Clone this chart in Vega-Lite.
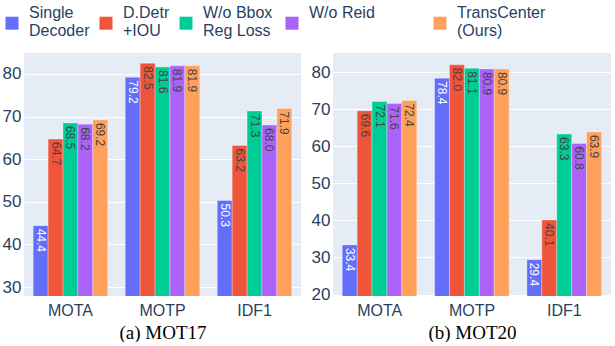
{
  "$schema": "https://vega.github.io/schema/vega-lite/v6.json",
  "padding": {"left": 2, "top": 5, "right": 2, "bottom": 0},
  "background": "white",
  "data": {"values": [
    {"dataset": "MOT17", "metric": "MOTA", "method": "Single Decoder", "value": 44.4},
    {"dataset": "MOT17", "metric": "MOTP", "method": "Single Decoder", "value": 79.2},
    {"dataset": "MOT17", "metric": "IDF1", "method": "Single Decoder", "value": 50.3},
    {"dataset": "MOT17", "metric": "MOTA", "method": "D.Detr +IOU", "value": 64.7},
    {"dataset": "MOT17", "metric": "MOTP", "method": "D.Detr +IOU", "value": 82.5},
    {"dataset": "MOT17", "metric": "IDF1", "method": "D.Detr +IOU", "value": 63.2},
    {"dataset": "MOT17", "metric": "MOTA", "method": "W/o Bbox Reg Loss", "value": 68.5},
    {"dataset": "MOT17", "metric": "MOTP", "method": "W/o Bbox Reg Loss", "value": 81.6},
    {"dataset": "MOT17", "metric": "IDF1", "method": "W/o Bbox Reg Loss", "value": 71.3},
    {"dataset": "MOT17", "metric": "MOTA", "method": "W/o Reid", "value": 68.2},
    {"dataset": "MOT17", "metric": "MOTP", "method": "W/o Reid", "value": 81.9},
    {"dataset": "MOT17", "metric": "IDF1", "method": "W/o Reid", "value": 68.0},
    {"dataset": "MOT17", "metric": "MOTA", "method": "TransCenter (Ours)", "value": 69.2},
    {"dataset": "MOT17", "metric": "MOTP", "method": "TransCenter (Ours)", "value": 81.9},
    {"dataset": "MOT17", "metric": "IDF1", "method": "TransCenter (Ours)", "value": 71.9},
    {"dataset": "MOT20", "metric": "MOTA", "method": "Single Decoder", "value": 33.4},
    {"dataset": "MOT20", "metric": "MOTP", "method": "Single Decoder", "value": 78.4},
    {"dataset": "MOT20", "metric": "IDF1", "method": "Single Decoder", "value": 29.4},
    {"dataset": "MOT20", "metric": "MOTA", "method": "D.Detr +IOU", "value": 69.6},
    {"dataset": "MOT20", "metric": "MOTP", "method": "D.Detr +IOU", "value": 82.0},
    {"dataset": "MOT20", "metric": "IDF1", "method": "D.Detr +IOU", "value": 40.1},
    {"dataset": "MOT20", "metric": "MOTA", "method": "W/o Bbox Reg Loss", "value": 72.1},
    {"dataset": "MOT20", "metric": "MOTP", "method": "W/o Bbox Reg Loss", "value": 81.1},
    {"dataset": "MOT20", "metric": "IDF1", "method": "W/o Bbox Reg Loss", "value": 63.3},
    {"dataset": "MOT20", "metric": "MOTA", "method": "W/o Reid", "value": 71.6},
    {"dataset": "MOT20", "metric": "MOTP", "method": "W/o Reid", "value": 80.9},
    {"dataset": "MOT20", "metric": "IDF1", "method": "W/o Reid", "value": 60.8},
    {"dataset": "MOT20", "metric": "MOTA", "method": "TransCenter (Ours)", "value": 72.4},
    {"dataset": "MOT20", "metric": "MOTP", "method": "TransCenter (Ours)", "value": 80.9},
    {"dataset": "MOT20", "metric": "IDF1", "method": "TransCenter (Ours)", "value": 63.9}
  ]},
  "spacing": 10,
  "hconcat": [
    {
      "width": 277,
      "height": 243,
      "transform": [{"filter": "datum.dataset == 'MOT17'"}],
      "encoding": {
        "x": {"field": "metric", "type": "nominal", "sort": ["MOTA", "MOTP", "IDF1"],
              "scale": {"paddingInner": 0.19, "paddingOuter": 0.1},
              "axis": {"title": "(a) MOT17"}},
        "xOffset": {"field": "method", "type": "nominal",
                    "sort": ["Single Decoder", "D.Detr +IOU", "W/o Bbox Reg Loss", "W/o Reid", "TransCenter (Ours)"],
                    "scale": {"paddingInner": 0, "paddingOuter": 0}},
        "y": {"field": "value", "type": "quantitative",
              "scale": {"domain": [27.9, 84.9], "zero": false, "nice": false},
              "axis": {"title": null, "values": [30, 40, 50, 60, 70, 80]}}
      },
      "layer": [
        {"mark": {"type": "bar", "clip": true, "stroke": "white", "strokeWidth": 0.6, "strokeOpacity": 0.5},
         "encoding": {"color": {"field": "method", "type": "nominal",
            "sort": ["Single Decoder", "D.Detr +IOU", "W/o Bbox Reg Loss", "W/o Reid", "TransCenter (Ours)"],
            "scale": {"range": ["#636efa", "#ef553b", "#00cc96", "#ab63fa", "#ffa15a"]},
            "legend": {"labelExpr": "datum.label == 'Single Decoder' ? ['Single', 'Decoder'] : datum.label == 'D.Detr +IOU' ? ['D.Detr', '+IOU'] : datum.label == 'W/o Bbox Reg Loss' ? ['W/o Bbox', 'Reg Loss \u200b'] : datum.label == 'TransCenter (Ours)' ? ['TransCenter', '(Ours)'] : ['W/o Reid           \u200b']",
                       "encode": {"labels": {"update": {"dy": {"signal": "(datum.index == 3 || datum.value == 'W/o Reid' || datum.label == 'W/o Reid') ? 10 : 0"}}}}}}}},
        {"mark": {"type": "text", "angle": 90, "align": "left", "baseline": "middle", "dx": 3, "fontSize": 12, "font": "Liberation Sans"},
         "encoding": {"text": {"field": "value", "type": "quantitative", "format": ".1f"},
                      "color": {"condition": {"test": "datum.method == 'Single Decoder'", "value": "white"}, "value": "#444444"}}}
      ]
    },
    {
      "width": 278,
      "height": 243,
      "transform": [{"filter": "datum.dataset == 'MOT20'"}],
      "encoding": {
        "x": {"field": "metric", "type": "nominal", "sort": ["MOTA", "MOTP", "IDF1"],
              "scale": {"paddingInner": 0.19, "paddingOuter": 0.1},
              "axis": {"title": "(b) MOT20"}},
        "xOffset": {"field": "method", "type": "nominal",
                    "sort": ["Single Decoder", "D.Detr +IOU", "W/o Bbox Reg Loss", "W/o Reid", "TransCenter (Ours)"],
                    "scale": {"paddingInner": 0, "paddingOuter": 0}},
        "y": {"field": "value", "type": "quantitative",
              "scale": {"domain": [19.6, 85.2], "zero": false, "nice": false},
              "axis": {"title": null, "values": [20, 30, 40, 50, 60, 70, 80]}}
      },
      "layer": [
        {"mark": {"type": "bar", "clip": true, "stroke": "white", "strokeWidth": 0.6, "strokeOpacity": 0.5},
         "encoding": {"color": {"field": "method", "type": "nominal",
            "sort": ["Single Decoder", "D.Detr +IOU", "W/o Bbox Reg Loss", "W/o Reid", "TransCenter (Ours)"],
            "scale": {"range": ["#636efa", "#ef553b", "#00cc96", "#ab63fa", "#ffa15a"]},
            "legend": {"labelExpr": "datum.label == 'Single Decoder' ? ['Single', 'Decoder'] : datum.label == 'D.Detr +IOU' ? ['D.Detr', '+IOU'] : datum.label == 'W/o Bbox Reg Loss' ? ['W/o Bbox', 'Reg Loss \u200b'] : datum.label == 'TransCenter (Ours)' ? ['TransCenter', '(Ours)'] : ['W/o Reid           \u200b']",
                       "encode": {"labels": {"update": {"dy": {"signal": "(datum.index == 3 || datum.value == 'W/o Reid' || datum.label == 'W/o Reid') ? 10 : 0"}}}}}}}},
        {"mark": {"type": "text", "angle": 90, "align": "left", "baseline": "middle", "dx": 3, "fontSize": 12, "font": "Liberation Sans"},
         "encoding": {"text": {"field": "value", "type": "quantitative", "format": ".1f"},
                      "color": {"condition": {"test": "datum.method == 'Single Decoder'", "value": "white"}, "value": "#444444"}}}
      ]
    }
  ],
  "resolve": {"scale": {"y": "independent", "x": "independent", "color": "shared"}},
  "config": {
    "view": {"fill": "#E5ECF6", "stroke": null},
    "axisX": {"labelAngle": 0, "labelFont": "Liberation Sans", "labelFontSize": 16, "labelColor": "#2a3f5f",
              "domain": false, "ticks": false, "labelPadding": 6, "grid": false,
              "titleFont": "Liberation Serif", "titleFontSize": 19, "titleFontWeight": "normal", "titleColor": "black", "titlePadding": 5},
    "axisY": {"labelFont": "Liberation Sans", "labelFontSize": 17, "labelColor": "#2a3f5f",
              "domain": false, "ticks": false, "labelPadding": 3, "grid": true, "gridColor": "white", "gridWidth": 1},
    "legend": {
      "orient": "none", "legendX": -20, "legendY": -48, "direction": "horizontal", "columns": 5,
      "gridAlign": "none", "columnPadding": 8, "title": null,
      "symbolType": "M-1,0.57L1,0.57L1,2.57L-1,2.57Z", "symbolSize": 169, "symbolStrokeWidth": 0, "symbolOpacity": 1,
      "labelFont": "Liberation Sans", "labelFontSize": 16, "labelColor": "#2a3f5f", "labelLineHeight": 20,
      "labelOffset": 9, "labelBaseline": "middle", "labelLimit": 200
    }
  }
}
